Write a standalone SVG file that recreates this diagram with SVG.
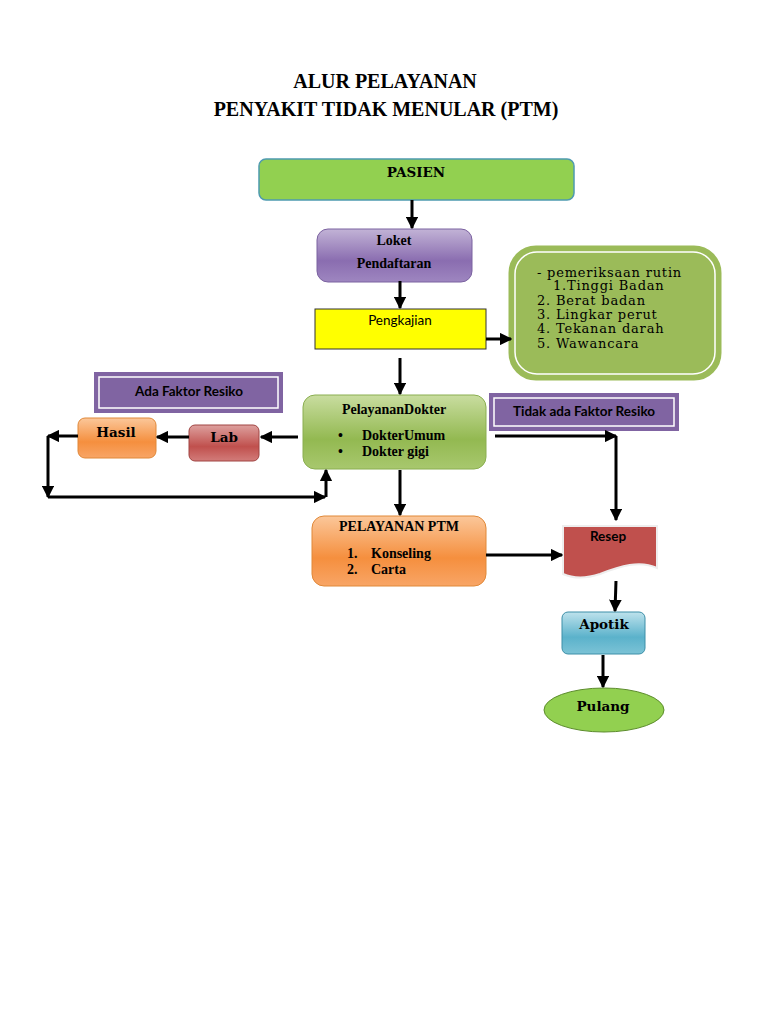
<svg xmlns="http://www.w3.org/2000/svg" width="768" height="1024" viewBox="0 0 768 1024">
<defs>
<style>
.title{font-family:"Liberation Serif",serif;font-weight:bold;font-size:20px;fill:#000;text-anchor:middle}
.bk{font-family:"DejaVu Serif",serif;font-weight:bold;font-size:13.5px;fill:#000;text-anchor:middle}
.tm{font-family:"Liberation Serif",serif;font-weight:bold;font-size:14px;fill:#000}
.sn{font-family:"Lato","Liberation Sans",sans-serif;font-size:13.5px;fill:#000;text-anchor:middle}
.lst{font-family:"DejaVu Serif",serif;font-size:13px;fill:#000;letter-spacing:0.8px}
.conn{stroke:#000;stroke-width:3;fill:none}
</style>
<marker id="ah" viewBox="0 0 10 10" refX="9" refY="5" markerWidth="4.2" markerHeight="4.2" orient="auto" markerUnits="strokeWidth">
<path d="M0,0 L10,5 L0,10 z" fill="#000"/>
</marker>
<linearGradient id="gPur" x1="0" y1="0" x2="0" y2="1"><stop offset="0" stop-color="#C2B3D6"/><stop offset="0.6" stop-color="#8A6DB0"/><stop offset="1" stop-color="#9E86C0"/></linearGradient>
<linearGradient id="gGrn" x1="0" y1="0" x2="0" y2="1"><stop offset="0" stop-color="#C9DDA0"/><stop offset="0.6" stop-color="#93B951"/><stop offset="1" stop-color="#A8C86E"/></linearGradient>
<linearGradient id="gOrg" x1="0" y1="0" x2="0" y2="1"><stop offset="0" stop-color="#FBC79A"/><stop offset="0.6" stop-color="#F58F3E"/><stop offset="1" stop-color="#F8A566"/></linearGradient>
<linearGradient id="gRed" x1="0" y1="0" x2="0" y2="1"><stop offset="0" stop-color="#DDA09E"/><stop offset="0.6" stop-color="#C0504D"/><stop offset="1" stop-color="#D27C7A"/></linearGradient>
<linearGradient id="gBlu" x1="0" y1="0" x2="0" y2="1"><stop offset="0" stop-color="#BEE2EC"/><stop offset="0.6" stop-color="#5BB2CB"/><stop offset="1" stop-color="#7CC3D6"/></linearGradient>
</defs>
<rect width="768" height="1024" fill="#fff"/>

<g id="title">
<text class="title" x="385" y="88">ALUR PELAYANAN</text>
<text class="title" x="386" y="116">PENYAKIT TIDAK MENULAR (PTM)</text>
</g>

<g id="pasien">
<rect x="259" y="159" width="315" height="41" rx="7" fill="#92D050" stroke="#4E9AB0" stroke-width="1.5"/>
<text class="bk" x="416" y="177">PASIEN</text>
</g>

<g id="loket">
<rect x="317" y="229" width="155" height="53" rx="11" fill="url(#gPur)" stroke="#7B62A0" stroke-width="1"/>
<text class="tm" x="394" y="245" text-anchor="middle" font-size="11">Loket</text>
<text class="tm" x="394" y="268" text-anchor="middle" font-size="11">Pendaftaran</text>
</g>

<g id="pengkajian">
<rect x="315" y="309" width="171" height="40" fill="#FFFF00" stroke="#333" stroke-width="1"/>
<text class="sn" x="400" y="325">Pengkajian</text>
</g>

<g id="pemeriksaan">
<rect x="510" y="247" width="210" height="132" rx="26" fill="#9BBB59" stroke="#9BBB59" stroke-width="3"/>
<rect x="515" y="252" width="200" height="122" rx="22" fill="none" stroke="#fff" stroke-width="1.5"/>
<text class="lst" x="537" y="277">- pemeriksaan rutin</text>
<text class="lst" x="553" y="290">1.Tinggi Badan</text>
<text class="lst" x="537" y="305">2. Berat badan</text>
<text class="lst" x="537" y="319">3. Lingkar perut</text>
<text class="lst" x="537" y="333">4. Tekanan darah</text>
<text class="lst" x="537" y="348">5. Wawancara</text>
</g>

<g id="ada-faktor">
<rect x="94" y="372" width="189" height="41" fill="#8064A2"/>
<rect x="99" y="377" width="179" height="31" fill="none" stroke="#fff" stroke-width="1.5"/>
<text class="sn" x="189" y="396" font-size="11.5" font-weight="bold" fill="#1a1a1a">Ada Faktor Resiko</text>
</g>

<g id="dokter">
<rect x="303" y="395" width="183" height="74" rx="12" fill="url(#gGrn)" stroke="#8AAE50" stroke-width="1"/>
<text class="tm" x="394" y="414" text-anchor="middle">PelayananDokter</text>
<text class="tm" x="338" y="440">•</text>
<text class="tm" x="362" y="440">DokterUmum</text>
<text class="tm" x="338" y="456">•</text>
<text class="tm" x="362" y="456">Dokter gigi</text>
</g>

<g id="tidak-ada-faktor">
<rect x="489" y="393" width="190" height="38" fill="#8064A2"/>
<rect x="494" y="398" width="180" height="28" fill="none" stroke="#fff" stroke-width="1.5"/>
<text class="sn" x="584" y="416" font-size="11.5" font-weight="bold" fill="#1a1a1a">Tidak ada Faktor Resiko</text>
</g>

<g id="lab">
<rect x="189" y="425" width="70" height="36" rx="6" fill="url(#gRed)" stroke="#A04442" stroke-width="1"/>
<text class="bk" x="224" y="442">Lab</text>
</g>

<g id="hasil">
<rect x="78" y="418" width="78" height="40" rx="7" fill="url(#gOrg)" stroke="#E08838" stroke-width="1"/>
<text class="bk" x="116" y="437">Hasil</text>
</g>

<g id="ptm">
<rect x="312" y="516" width="174" height="70" rx="12" fill="url(#gOrg)" stroke="#E08838" stroke-width="1"/>
<text class="tm" x="399" y="531" text-anchor="middle" font-size="11.8">PELAYANAN PTM</text>
<text class="tm" x="347" y="558">1.</text>
<text class="tm" x="371" y="558">Konseling</text>
<text class="tm" x="347" y="574">2.</text>
<text class="tm" x="371" y="574">Carta</text>
</g>

<g id="resep">
<path d="M563,526 L657,526 L657,568 C640,560 620,566 600,574 C585,579 572,578 563,574 Z" fill="#C0504D" stroke="#EEE" stroke-width="2"/>
<text class="sn" x="608" y="541" font-weight="bold" font-size="11.3" fill="#222">Resep</text>
</g>

<g id="apotik">
<rect x="562" y="612" width="83" height="42" rx="6" fill="url(#gBlu)" stroke="#3C8FA8" stroke-width="1"/>
<text class="bk" x="604" y="629">Apotik</text>
</g>

<g id="pulang">
<ellipse cx="604" cy="710" rx="60" ry="22" fill="#92D050" stroke="#5C8C2C" stroke-width="1"/>
<text class="bk" x="603" y="711">Pulang</text>
</g>

<g id="connectors">
<line class="conn" x1="412" y1="200" x2="412" y2="228" marker-end="url(#ah)"/>
<line class="conn" x1="400" y1="281" x2="400" y2="308" marker-end="url(#ah)"/>
<line class="conn" x1="486" y1="339" x2="511" y2="339" marker-end="url(#ah)"/>
<line class="conn" x1="400" y1="358" x2="400" y2="394" marker-end="url(#ah)"/>
<line class="conn" x1="298" y1="437" x2="261" y2="437" marker-end="url(#ah)"/>
<line class="conn" x1="189" y1="437" x2="157" y2="437" marker-end="url(#ah)"/>
<line class="conn" x1="78" y1="436" x2="48" y2="436" marker-end="url(#ah)"/>
<line class="conn" x1="48" y1="436" x2="48" y2="497" marker-end="url(#ah)"/>
<line class="conn" x1="48" y1="497" x2="325" y2="497" marker-end="url(#ah)"/>
<line class="conn" x1="326" y1="497" x2="326" y2="470" marker-end="url(#ah)"/>
<line class="conn" x1="495" y1="436" x2="616" y2="436" marker-end="url(#ah)"/>
<line class="conn" x1="616" y1="436" x2="616" y2="520" marker-end="url(#ah)"/>
<line class="conn" x1="400" y1="470" x2="400" y2="515" marker-end="url(#ah)"/>
<line class="conn" x1="486" y1="555" x2="562" y2="555" marker-end="url(#ah)"/>
<line class="conn" x1="616" y1="581" x2="615" y2="611" marker-end="url(#ah)"/>
<line class="conn" x1="603" y1="655" x2="603" y2="687" marker-end="url(#ah)"/>
</g>
</svg>
